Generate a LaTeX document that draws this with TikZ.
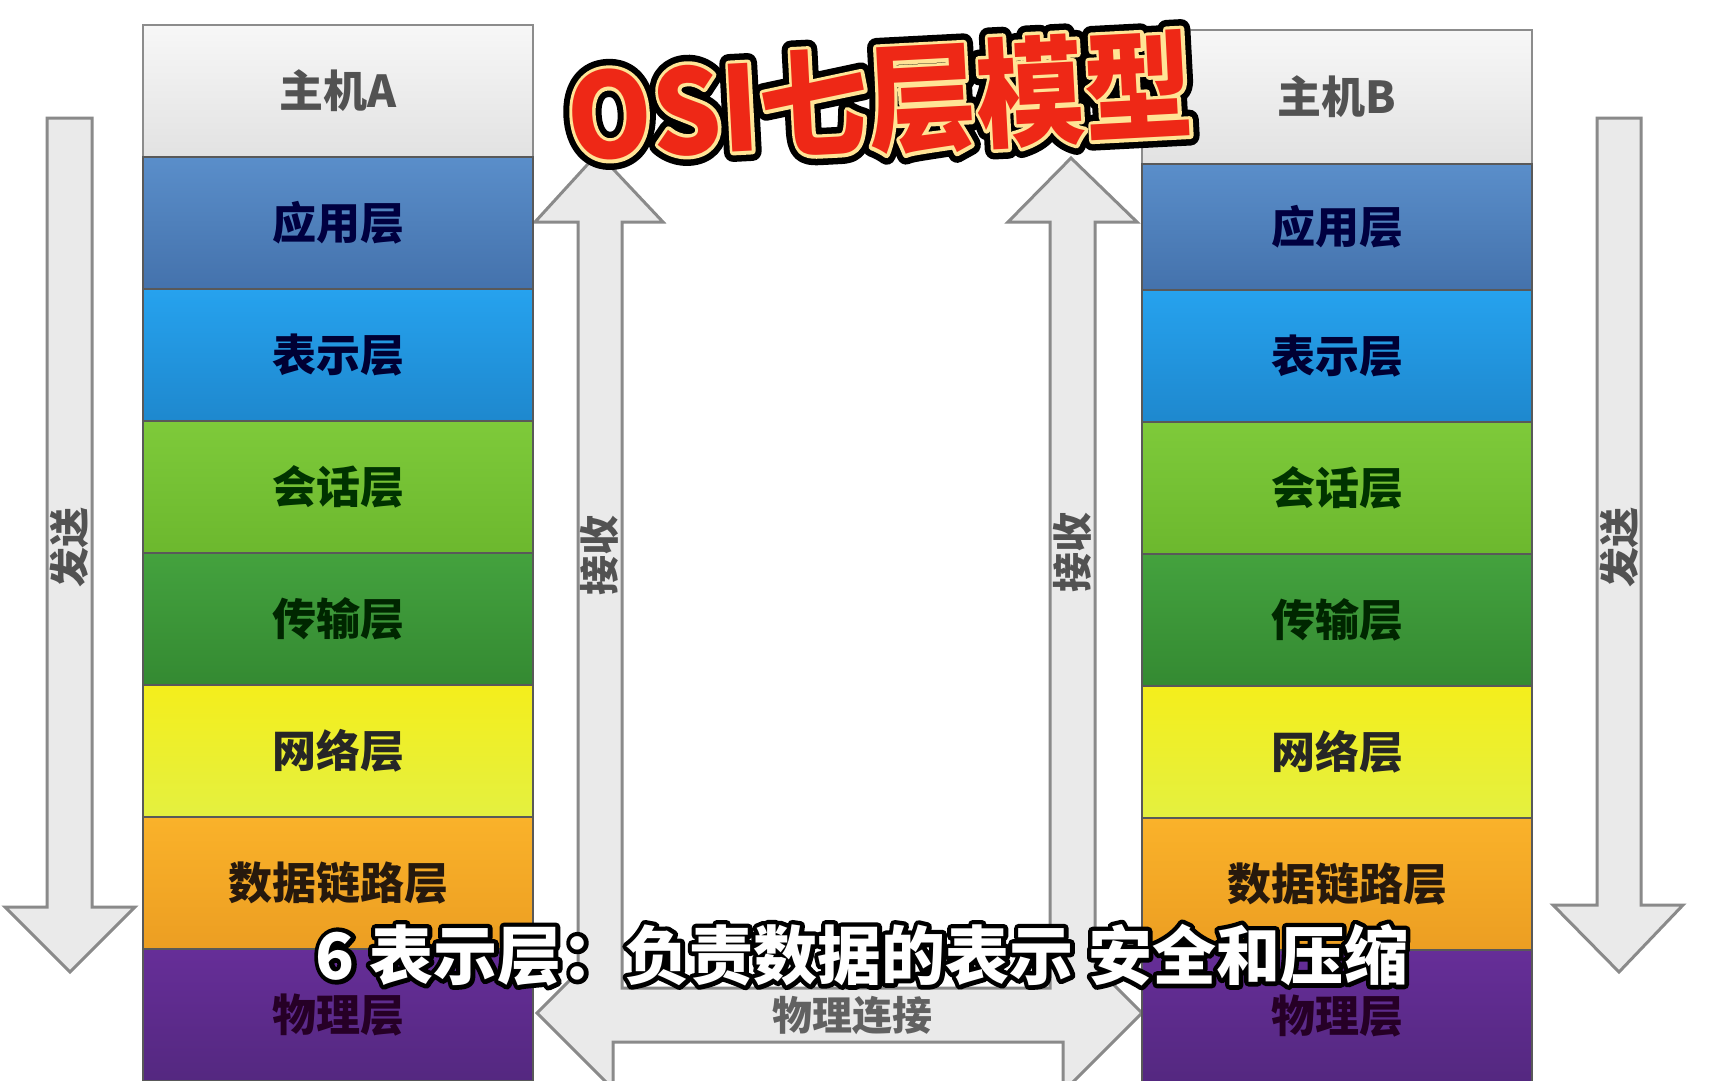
\documentclass[tikz,border=0pt]{standalone}
\usepackage{fontspec}
\setmainfont{Noto Sans CJK SC}
\usetikzlibrary{positioning}

\definecolor{hdrtop}{RGB}{247,247,247}
\definecolor{hdrbot}{RGB}{226,226,226}
\definecolor{apptop}{RGB}{90,142,202}
\definecolor{appbot}{RGB}{68,114,172}
\definecolor{prstop}{RGB}{38,162,238}
\definecolor{prsbot}{RGB}{30,136,206}
\definecolor{sestop}{RGB}{126,202,58}
\definecolor{sesbot}{RGB}{108,184,46}
\definecolor{trntop}{RGB}{68,162,62}
\definecolor{trnbot}{RGB}{52,138,50}
\definecolor{nettop}{RGB}{244,238,28}
\definecolor{netbot}{RGB}{228,240,64}
\definecolor{lnktop}{RGB}{250,178,42}
\definecolor{lnkbot}{RGB}{236,158,34}
\definecolor{phytop}{RGB}{102,46,152}
\definecolor{phybot}{RGB}{84,40,128}
\definecolor{arrfill}{RGB}{234,234,234}
\definecolor{arrline}{RGB}{138,138,138}
\definecolor{titlered}{RGB}{238,40,22}
\definecolor{titlerim}{RGB}{255,228,150}

% outline of a text: stroke its glyphs with a wide pen
\newcommand\penon[1]{\special{pdf:literal direct #1 w 1 j 2 Tr}}
\newcommand\penoff{\special{pdf:literal direct 0 Tr}}

\tikzset{
  layer/.style={draw=black!65, line width=2pt, outer sep=0pt, inner sep=0pt,
    minimum width=390pt, minimum height=132pt,
    font=\fontsize{44}{44}\selectfont\bfseries},
  hostbox/.style={layer, top color=hdrtop, bottom color=hdrbot, draw=black!45,
    text=black!68},
  applayer/.style={layer, top color=apptop, bottom color=appbot, text=black!75!blue},
  prslayer/.style={layer, top color=prstop, bottom color=prsbot, text=black!80!blue},
  seslayer/.style={layer, top color=sestop, bottom color=sesbot, text=black!80!green},
  trnlayer/.style={layer, top color=trntop, bottom color=trnbot, text=black!85!green},
  netlayer/.style={layer, top color=nettop, bottom color=netbot, text=black!85},
  lnklayer/.style={layer, top color=lnktop, bottom color=lnkbot, text=black!80!brown},
  phylayer/.style={layer, top color=phytop, bottom color=phybot, text=black!70!violet},
  blockarrow/.style={fill=arrfill, draw=arrline, line width=3pt, line join=miter},
  arrowlabel/.style={text=black!68, font=\fontsize{40}{40}\selectfont\bfseries},
  caption/.style={font=\fontsize{64}{64}\selectfont\bfseries},
  headline/.style={font=\fontsize{118}{118}\selectfont\bfseries, rotate=3, xscale=0.92},
}

\newcommand\notetext{6 表示层：负责数据的表示 安全和压缩}
\newcommand\headtext{OSI七层模型}

\begin{document}
\begin{tikzpicture}[x=1pt,y=-1pt]
        \useasboundingbox (0,0) rectangle (1728,1080);
        \fill[white] (0,0) rectangle (1728,1080);
        %% Send arrows
        \draw[blockarrow] (47,118) -- (92,118) -- (92,907) -- (135,907) -- (70,972) -- (5,907) -- (47,907) -- cycle;
        \draw[blockarrow] (1597,118) -- (1641,118) -- (1641,905) -- (1683,905) -- (1619,972) -- (1553,905) -- (1597,905) -- cycle;
        %% Receive arrows and physical link
        \draw[blockarrow] (598,153) -- (663,222) -- (622,222) -- (622,988) -- (1050,988) -- (1050,222)
            -- (1008,222) -- (1071,158) -- (1137,222) -- (1095,222) -- (1095,966) -- (1142,1013)
            -- (1063,1092) -- (1063,1042) -- (613,1042) -- (613,1089) -- (537,1013) -- (578,972)
            -- (578,222) -- (535,222) -- cycle;
        \node[arrowlabel, rotate=90] (sendA) at (69,547) {发送};
        \node[arrowlabel, rotate=90] (sendB) at (1619,547) {发送};
        \node[arrowlabel, rotate=90] (recvA) at (599,555) {接收};
        \node[arrowlabel, rotate=90] (recvB) at (1072,552) {接收};
        \node[arrowlabel, text=black!62] (wire) at (852,1015) {物理连接};
        %% Host A
        \node[hostbox] (hostA) at (338,91) {主机A};
        \node[applayer, below=0pt of hostA] (appA) {应用层};
        \node[prslayer, below=0pt of appA] (prsA) {表示层};
        \node[seslayer, below=0pt of prsA] (sesA) {会话层};
        \node[trnlayer, below=0pt of sesA] (trnA) {传输层};
        \node[netlayer, below=0pt of trnA] (netA) {网络层};
        \node[lnklayer, below=0pt of netA] (lnkA) {数据链路层};
        \node[phylayer, below=0pt of lnkA] (phyA) {物理层};
        %% Host B
        \node[hostbox, minimum height=134pt] (hostB) at (1337,97) {主机B};
        \node[applayer, minimum height=126pt, below=0pt of hostB] (appB) {应用层};
        \node[prslayer, below=0pt of appB] (prsB) {表示层};
        \node[seslayer, below=0pt of prsB] (sesB) {会话层};
        \node[trnlayer, below=0pt of sesB] (trnB) {传输层};
        \node[netlayer, below=0pt of trnB] (netB) {网络层};
        \node[lnklayer, below=0pt of netB] (lnkB) {数据链路层};
        \node[phylayer, below=0pt of lnkB] (phyB) {物理层};
        %% Title: black rim, light rim, red face
        \node[headline, text=black] at (880,100) {\penon{20}\headtext\penoff};
        \node[headline, text=titlerim] at (880,100) {\penon{7}\headtext\penoff};
        \node[headline, text=titlered] (title) at (880,100) {\headtext};
        %% Caption
        \node[caption, text=black] at (862,955) {\penon{9}\notetext\penoff};
        \node[caption, text=white] (note) at (862,955) {\notetext};
\end{tikzpicture}
\end{document}
